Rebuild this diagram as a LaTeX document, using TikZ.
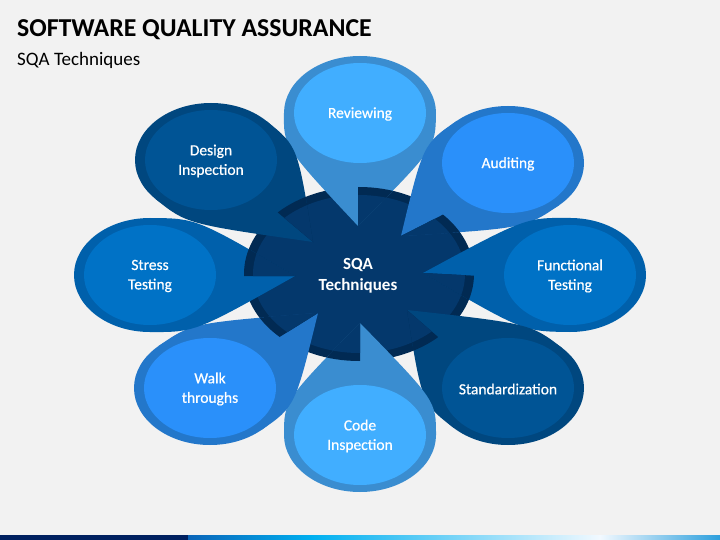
\documentclass[tikz,border=0pt]{standalone}
\usepackage{fontspec}
\setmainfont{Carlito}
\newfontfamily\petalfont[FakeBold=0.6]{Carlito}
\usetikzlibrary{calc}
\definecolor{bg}{HTML}{F2F2F2}
\definecolor{ringc}{HTML}{012A53}
\definecolor{navyc}{HTML}{04386C}
\definecolor{oA}{HTML}{3A8DD0}
\definecolor{iA}{HTML}{41AEFF}
\definecolor{oB}{HTML}{2377CA}
\definecolor{iB}{HTML}{2A90FA}
\definecolor{oC}{HTML}{0060AB}
\definecolor{iC}{HTML}{0072C6}
\definecolor{oD}{HTML}{00477F}
\definecolor{iD}{HTML}{005495}
\definecolor{barnavy}{HTML}{002060}
\definecolor{barb1}{HTML}{0A64B8}
\definecolor{barb2}{HTML}{00B0F0}
\definecolor{barb3}{HTML}{F2F9FF}
\definecolor{barb4}{HTML}{2C9FDD}
\def\petals{rev/360/113/358/226/-90/oA/iA/Reviewing,
aud/508/163/401/236/-27/oB/iB/Auditing,
fun/570/275/423/273/3/oC/iC/{Functional\\Testing},
std/508/388/407/310/41/oD/iD/Standardization,
code/360/435/360/323/90/oA/iA/{Code\\Inspection},
walk/210/388/318/313/148/oB/iB/{Walk\\throughs},
str/150/275/295/276/180/oC/iC/{Stress\\Testing},
des/211/160/313/242/220/oD/iD/{Design\\Inspection}}
\newcommand\petalcalc[4]{%
  \pgfmathsetmacro\ph{atan2((#4-#2)/57,(#3-#1)/76)}%
  \pgfmathsetmacro\aw{\ph-90}%
  \pgfmathsetmacro\ac{\ph+90}%
  \pgfmathsetmacro\EWx{#1+76*cos(\aw)}%
  \pgfmathsetmacro\EWy{#2+57*sin(\aw)}%
  \pgfmathsetmacro\KWx{\EWx-0.6*76*sin(\aw)}%
  \pgfmathsetmacro\KWy{\EWy+0.6*57*cos(\aw)}%
  \pgfmathsetmacro\ECx{#1+76*cos(\ac)}%
  \pgfmathsetmacro\ECy{#2+57*sin(\ac)}%
  \pgfmathsetmacro\KCx{\ECx+0.6*76*sin(\ac)}%
  \pgfmathsetmacro\KCy{\ECy-0.6*57*cos(\ac)}%
}
\tikzset{
  petaltext/.style={text=white, align=center, font=\petalfont\fontsize{15.5}{19.5}\selectfont, inner sep=0pt, yshift=-1pt},
  centertext/.style={text=white, align=center, font=\bfseries\fontsize{17}{21}\selectfont, inner sep=0pt, yshift=-1pt}
}
\begin{document}
\begin{tikzpicture}[x=1pt,y=-1pt]
\fill[bg] (0,0) rectangle (720,540);
\useasboundingbox (0,0) rectangle (720,540);
% title
\node[anchor=base west, inner sep=0pt, font=\bfseries\fontsize{25.8}{30}\selectfont] (title) at (17,37) {SOFTWARE QUALITY ASSURANCE};
\node[anchor=base west, inner sep=0pt, font=\fontsize{19}{23}\selectfont] (subtitle) at (17,66) {SQA Techniques};
% centre
\coordinate (C) at (359,274);
\fill[ringc] (C) ellipse[x radius=115pt, y radius=87pt];
\fill[navyc] (C) ellipse[x radius=106pt, y radius=79pt];
% tails
\foreach \nm/\cx/\cy/\tx/\ty/\rad/\oc/\ic/\txt in \petals {
  \petalcalc{\cx}{\cy}{\tx}{\ty}
  \fill[\oc] (\tx,\ty) .. controls (\KWx,\KWy) .. (\EWx,\EWy) -- (\cx,\cy) -- (\ECx,\ECy) .. controls (\KCx,\KCy) .. (\tx,\ty) -- cycle;
}
% notches
\foreach \nm/\cx/\cy/\tx/\ty/\rad/\oc/\ic/\txt in \petals {
  \petalcalc{\cx}{\cy}{\tx}{\ty}
  \begin{scope}
    \clip (\tx,\ty) -- ++(\rad:200) -- ($(\tx,\ty)!3!(\KWx,\KWy)$) -- cycle;
    \fill[ringc] (C) ellipse[x radius=115pt, y radius=87pt];
    \fill[navyc] (C) ellipse[x radius=106pt, y radius=79pt];
  \end{scope}
}
% heads
\foreach \nm/\cx/\cy/\tx/\ty/\rad/\oc/\ic/\txt in \petals {
  \fill[\oc] (\cx,\cy) ellipse[x radius=76pt, y radius=57pt];
  \fill[\ic] (\cx,\cy) ellipse[x radius=66pt, y radius=50pt];
  \node[petaltext] (\nm) at (\cx,\cy) {\txt};
}
\node[centertext] (centre) at (358,275) {SQA\\Techniques};
% bottom bar
\fill[barnavy] (0,535) rectangle (188.5,540);
\shade[left color=barb1, right color=barb2] (188,535) rectangle (312.5,540);
\shade[left color=barb2, right color=barb3] (312,535) rectangle (600.5,540);
\shade[left color=barb3, right color=barb4] (600,535) rectangle (720,540);
\end{tikzpicture}
\end{document}
